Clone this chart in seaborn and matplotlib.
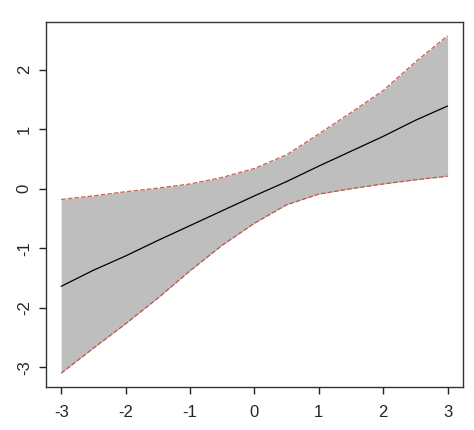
import pandas as pd
import matplotlib
matplotlib.use("Agg")
import matplotlib.pyplot as plt
import seaborn as sns

# values
x_vals = [-3, -2.5, -2, -1.5, -1, -0.5, 0, 0.5, 1, 1.5, 2, 2.5, 3]
fit = [-1.64, -1.37, -1.13, -0.87, -0.62, -0.37, -0.12, 0.12, 0.38, 0.63, 0.88, 1.15, 1.39]
upper = [-0.18, -0.12, -0.05, 0.01, 0.08, 0.19, 0.34, 0.57, 0.92, 1.28, 1.65, 2.13, 2.57]
lower = [-3.10, -2.68, -2.27, -1.84, -1.38, -0.95, -0.58, -0.27, -0.09, 0.0, 0.08, 0.15, 0.21]
x_ticks = [-3, -2, -1, 0, 1, 2, 3]
y_ticks = [-3, -2, -1, 0, 1, 2]

sns.set_style("white")
plt.rcParams['font.family'] = ['Liberation Sans', 'DejaVu Sans']

df = pd.DataFrame({"x": x_vals, "fit": fit, "upper": upper, "lower": lower})

fig = plt.figure(figsize=(4.74, 4.30), dpi=100)
ax = fig.add_axes([0.0964, 0.1007, 0.8804, 0.8474])

ax.fill_between(df["x"], df["lower"], df["upper"], color="#BEBEBE", linewidth=0)
sns.lineplot(data=df, x="x", y="upper", ax=ax, color="#c0392b", linestyle="--", linewidth=0.9, alpha=0.8)
sns.lineplot(data=df, x="x", y="lower", ax=ax, color="#c0392b", linestyle="--", linewidth=0.9, alpha=0.8)
sns.lineplot(data=df, x="x", y="fit", ax=ax, color="black", linewidth=0.9)

# R-style 4% padding
xr = max(x_vals) - min(x_vals)
ax.set_xlim(min(x_vals) - 0.04 * xr, max(x_vals) + 0.04 * xr)
ymin, ymax = min(lower), max(upper)
yr = ymax - ymin
ax.set_ylim(ymin - 0.04 * yr, ymax + 0.04 * yr)

ax.set_xticks(x_ticks)
ax.set_yticks(y_ticks)
ax.set_xticklabels([str(t) for t in x_ticks])
ax.set_yticklabels([str(t) for t in y_ticks], rotation=90, va="center")
ax.tick_params(axis="both", direction="out", length=5, width=1, color="#222222",
               labelsize=12, pad=5, bottom=True, left=True)
ax.tick_params(axis="x", pad=8)
ax.set_xlabel("")
ax.set_ylabel("")
for s in ax.spines.values():
    s.set_color("#333333")
    s.set_linewidth(1)

fig.savefig("out.png", dpi=100)
